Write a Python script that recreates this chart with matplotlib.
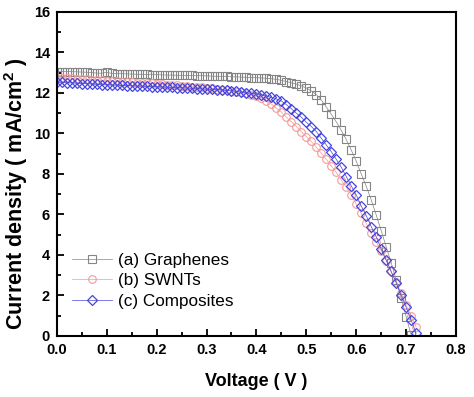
import numpy as np
import matplotlib
matplotlib.use("Agg")
import matplotlib.pyplot as plt
from matplotlib.ticker import MultipleLocator

plt.rcParams['font.family'] = ['Liberation Sans', 'DejaVu Sans']
plt.rcParams['mathtext.fontset'] = 'custom'
plt.rcParams['mathtext.bf'] = 'Liberation Sans:bold'
plt.rcParams['mathtext.rm'] = 'Liberation Sans'

# J-V curves, one point every 0.01 V
graphenes = [13.05, 13.05, 13.05, 13.05, 13.04, 13.03, 13.02, 13.00, 12.98, 12.97,
             13.02, 12.96, 12.95, 12.95, 12.94, 12.93, 12.92, 12.92, 12.91, 12.90,
             12.90, 12.89, 12.88, 12.88, 12.87, 12.87, 12.86, 12.86, 12.85, 12.85,
             12.84, 12.83, 12.82, 12.82, 12.81, 12.80, 12.79, 12.78, 12.77, 12.76,
             12.75, 12.74, 12.72, 12.70, 12.67, 12.62, 12.56, 12.50, 12.43, 12.35,
             12.24, 12.10, 11.92, 11.65, 11.30, 10.95, 10.57, 10.15, 9.70, 9.18,
             8.63, 8.00, 7.40, 6.72, 5.98, 5.20, 4.41, 3.62, 2.77, 1.89,
             0.95, 0.06]
swnts = [12.75, 12.74, 12.73, 12.72, 12.70, 12.69, 12.67, 12.66, 12.64, 12.62,
         12.60, 12.59, 12.57, 12.56, 12.54, 12.53, 12.51, 12.50, 12.48, 12.47,
         12.45, 12.43, 12.41, 12.39, 12.37, 12.35, 12.33, 12.31, 12.29, 12.27,
         12.25, 12.22, 12.19, 12.16, 12.13, 12.10, 12.06, 12.02, 11.98, 11.92,
         11.85, 11.75, 11.62, 11.45, 11.25, 11.05, 10.80, 10.58, 10.34, 10.09,
         9.84, 9.60, 9.32, 9.02, 8.72, 8.39, 8.07, 7.70, 7.34, 6.96,
         6.50, 6.06, 5.56, 5.07, 4.66, 4.21, 3.72, 3.18, 2.68, 2.14,
         1.53, 0.99, 0.43]
composites = [12.53, 12.52, 12.50, 12.49, 12.48, 12.46, 12.45, 12.44, 12.42, 12.41,
              12.40, 12.39, 12.38, 12.37, 12.36, 12.35, 12.34, 12.33, 12.32, 12.31,
              12.30, 12.29, 12.28, 12.27, 12.26, 12.25, 12.24, 12.23, 12.21, 12.20,
              12.18, 12.17, 12.16, 12.14, 12.12, 12.10, 12.07, 12.04, 12.00, 11.98,
              11.95, 11.90, 11.85, 11.78, 11.70, 11.60, 11.42, 11.22, 11.00, 10.80,
              10.55, 10.34, 10.09, 9.76, 9.43, 9.10, 8.72, 8.33, 7.87, 7.41,
              6.96, 6.42, 5.94, 5.40, 4.90, 4.30, 3.75, 3.18, 2.63, 2.02,
              1.42, 0.79, 0.13]

v_a = np.arange(len(graphenes)) * 0.01
v_b = np.arange(len(swnts)) * 0.01
v_c = np.arange(len(composites)) * 0.01

fig = plt.figure(figsize=(4.74, 3.97), dpi=100)
ax = fig.add_axes([0.120, 0.154, 0.842, 0.816])

ax.plot(v_a, graphenes, color='#858585', marker='s', ms=5.2, mfc='none', mew=0.8, lw=0.5,
        label='(a) Graphenes')
ax.plot(v_b, swnts, color='#f29a9a', marker='o', ms=5.5, mfc='none', mew=0.8, lw=0.5,
        label='(b) SWNTs')
ax.plot(v_c, composites, color='#4646dc', marker='D', ms=5.2, mfc='none', mew=0.9, lw=0.5,
        label='(c) Composites')

ax.set_xlim(0, 0.8)
ax.set_ylim(0, 16)
ax.xaxis.set_major_locator(MultipleLocator(0.1))
ax.xaxis.set_minor_locator(MultipleLocator(0.05))
ax.yaxis.set_major_locator(MultipleLocator(2))
ax.yaxis.set_minor_locator(MultipleLocator(1))
ax.xaxis.set_major_formatter(matplotlib.ticker.FormatStrFormatter('%.1f'))
ax.tick_params(which='both', direction='in', top=False, right=False, width=1.3)
ax.tick_params(which='major', length=5, labelsize=10.5)
ax.tick_params(axis='x', which='major', pad=5)
ax.tick_params(axis='y', which='major', pad=5)
ax.tick_params(which='minor', length=3)
for lab in ax.get_xticklabels() + ax.get_yticklabels():
    lab.set_fontweight('bold')
for s in ax.spines.values():
    s.set_linewidth(1.5)

ax.set_xlabel('Voltage ( V )', fontsize=13, fontweight='bold', labelpad=12)
ax.set_ylabel(r'Current density ( mA/cm$^\mathbf{2}$ )', fontsize=15.5, fontweight='bold')
ax.yaxis.set_label_coords(-0.068, 0.438)

ax.legend(loc='lower left', bbox_to_anchor=(0.0, 0.035), frameon=False, fontsize=12.3,
          handlelength=2.3, handletextpad=0.4, labelspacing=0.34)

fig.savefig('out.png', dpi=100)
